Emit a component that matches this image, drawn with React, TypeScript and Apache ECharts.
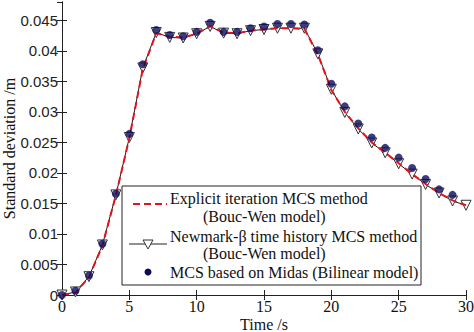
import React, { useEffect, useRef } from "react";
import * as echarts from "echarts";

const timeSeconds = [0, 1, 2, 3, 4, 5, 6, 7, 8, 9, 10, 11, 12, 13, 14, 15, 16, 17, 18, 19, 20, 21, 22, 23, 24, 25, 26, 27, 28, 29, 30];
const explicitMcs = [0, 0.0004, 0.0029, 0.0081, 0.0163, 0.0257, 0.037, 0.0429, 0.0423, 0.0422, 0.0428, 0.044, 0.043, 0.0429, 0.0433, 0.0435, 0.0437, 0.0437, 0.0436, 0.0394, 0.0336, 0.03, 0.0273, 0.025, 0.0233, 0.0216, 0.0198, 0.0182, 0.0167, 0.0155, 0.0147];
const newmarkMcs = [0, 0.0005, 0.003, 0.0082, 0.0164, 0.0258, 0.0372, 0.043, 0.0422, 0.0421, 0.0428, 0.044, 0.0429, 0.0428, 0.0433, 0.0435, 0.0437, 0.0437, 0.0437, 0.0395, 0.0337, 0.0299, 0.0272, 0.0249, 0.0233, 0.0215, 0.0198, 0.0181, 0.0167, 0.0154, 0.0147];
const midasTimes = [0, 1, 2, 3, 4, 5, 6, 7, 8, 9, 10, 11, 12, 13, 14, 15, 16, 17, 18, 19, 20, 21, 22, 23, 24, 25, 26, 27, 28, 29];
const midasMcs = [0, 0.0007, 0.0032, 0.0084, 0.0166, 0.0264, 0.0378, 0.0434, 0.0426, 0.0424, 0.0431, 0.0446, 0.0431, 0.0431, 0.0437, 0.044, 0.0444, 0.0444, 0.0443, 0.0401, 0.0346, 0.0309, 0.0281, 0.0258, 0.0241, 0.0225, 0.0208, 0.019, 0.0173, 0.0164];

const legendLabels = [
  ["Explicit iteration MCS method", "(Bouc-Wen model)"],
  ["Newmark-\u03b2 time history MCS method", "(Bouc-Wen model)"],
  ["MCS based on Midas (Bilinear model)"],
];

const SERIF = "'Liberation Serif', 'Times New Roman', serif";
const SANS = "'Liberation Sans', Arial, sans-serif";
const AXIS_COLOR = "#222";
const RED = "#e3121b";
const NAVY = "#0b0b5c";

export default function App() {
  const ref = useRef<HTMLDivElement>(null);
  useEffect(() => {
    if (!ref.current) return;
    const chart = echarts.init(ref.current, null, { renderer: "svg" });
    const axisLine = { show: true, lineStyle: { color: AXIS_COLOR, width: 1 } };
    const axisTick = { show: true, inside: true, length: 5, lineStyle: { color: AXIS_COLOR } };
    const textStyle = { fontFamily: SERIF, fontSize: 16, color: "#111" };
    const lx = 122, ly = 186, lw = 299, lh = 99;
    chart.setOption({
      animation: false,
      backgroundColor: "#fff",
      grid: { left: 62, right: 8, top: 2, bottom: 37, outerBoundsMode: "none", containLabel: false },
      xAxis: [
        {
          type: "value", min: 0, max: 30, interval: 5, position: "bottom",
          name: "Time /s", nameLocation: "middle", nameGap: 21, nameMoveOverlap: false,
          nameTextStyle: { ...textStyle },
          axisLine, axisTick,
          axisLabel: { fontFamily: SERIF, fontSize: 16, color: "#111", margin: 3 },
          splitLine: { show: false },
        },
        {
          type: "value", min: 0, max: 30, interval: 5, position: "top",
          axisLine, axisTick, axisLabel: { show: false }, splitLine: { show: false },
        },
      ],
      yAxis: [
        {
          type: "value", min: 0, max: 0.048, interval: 0.005, position: "left",
          name: "Standard deviation /m", nameLocation: "middle", nameGap: 45, nameMoveOverlap: false,
          nameTextStyle: { ...textStyle },
          axisLine, axisTick,
          axisLabel: { fontFamily: SANS, fontSize: 15, color: "#222", margin: 4, showMaxLabel: false },
          splitLine: { show: false },
        },
        {
          type: "value", min: 0, max: 0.048, interval: 0.005, position: "right",
          axisLine, axisTick, axisLabel: { show: false }, splitLine: { show: false },
        },
      ],
      series: [
        {
          name: "Newmark", type: "line",
          data: timeSeconds.map((t, i) => [t, newmarkMcs[i]]),
          lineStyle: { color: "#1a1a1a", width: 1 },
          symbol: "triangle", symbolRotate: 180, symbolSize: 10, showSymbol: true,
          itemStyle: { color: "#fff", borderColor: "#333", borderWidth: 1 },
          z: 2,
        },
        {
          name: "Explicit", type: "line",
          data: timeSeconds.map((t, i) => [t, explicitMcs[i]]),
          lineStyle: { color: RED, width: 2, type: [7, 4] },
          symbol: "none", z: 3,
        },
        {
          name: "Midas", type: "scatter",
          data: midasTimes.map((t, i) => [t, midasMcs[i]]),
          symbol: "circle", symbolSize: 8,
          itemStyle: { color: NAVY },
          z: 4,
        },
      ],
      graphic: [
        {
          type: "group", z: 100,
          children: [
            { type: "rect", shape: { x: lx, y: ly, width: lw, height: lh }, style: { fill: "#fff", stroke: "#222", lineWidth: 1 } },
            { type: "line", shape: { x1: 133, y1: 204, x2: 167, y2: 204 }, style: { stroke: RED, lineWidth: 2, lineDash: [7, 4] } },
            { type: "text", style: { text: legendLabels[0][0], x: 170, y: 198, ...textStyle, fill: "#111", verticalAlign: "middle" } },
            { type: "text", style: { text: legendLabels[0][1], x: 203, y: 216, ...textStyle, fill: "#111", verticalAlign: "middle" } },
            { type: "line", shape: { x1: 129, y1: 244, x2: 167, y2: 244 }, style: { stroke: "#222", lineWidth: 1 } },
            { type: "polygon", shape: { points: [[143, 240], [153, 240], [148, 249]] }, style: { fill: "#fff", stroke: "#333", lineWidth: 1 } },
            { type: "text", style: { text: legendLabels[1][0], x: 170, y: 236, ...textStyle, fill: "#111", verticalAlign: "middle" } },
            { type: "text", style: { text: legendLabels[1][1], x: 203, y: 253, ...textStyle, fill: "#111", verticalAlign: "middle" } },
            { type: "circle", shape: { cx: 148, cy: 272, r: 3.5 }, style: { fill: NAVY } },
            { type: "text", style: { text: legendLabels[2][0], x: 170, y: 272, ...textStyle, fill: "#111", verticalAlign: "middle" } },
          ],
        },
      ],
    });
    return () => chart.dispose();
  }, []);
  return <div ref={ref} style={{ width: 474, height: 332, position: "absolute", left: 0, top: 0 }} />;
}
